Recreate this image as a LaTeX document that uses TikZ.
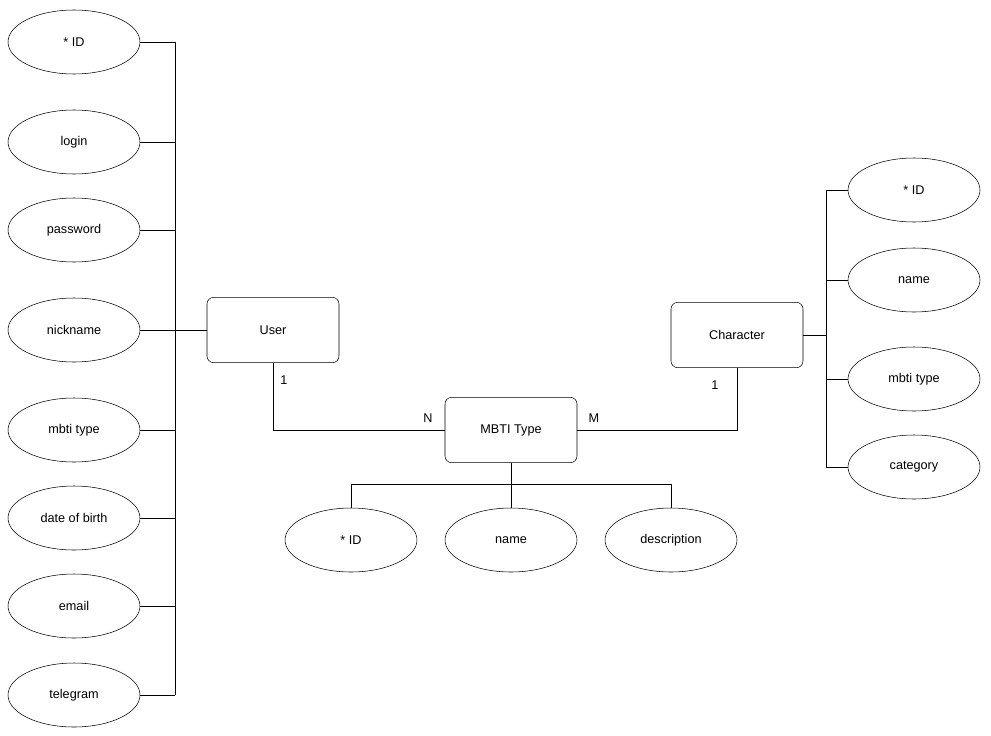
\documentclass[tikz,border=0pt]{standalone}
\usepackage{fontspec}
\setmainfont{Liberation Sans}
\usetikzlibrary{shapes.geometric}

\tikzset{
  attr/.style={draw,ellipse,minimum width=99pt,minimum height=48pt,inner sep=0pt,font=\fontsize{9.5}{11}\selectfont},
  entity/.style={draw,rounded corners=5pt,minimum width=99pt,minimum height=49pt,inner sep=0pt,font=\fontsize{9.5}{11}\selectfont},
  card/.style={font=\fontsize{9.5}{11}\selectfont}
}

\begin{document}
\begin{tikzpicture}[x=0.75pt,y=-0.75pt,thin]
  \useasboundingbox (0,0) rectangle (991,735);

% entities
  \node[entity] (user) at (273,330) {User};
  \node[entity] (mbti) at (511,430) {MBTI Type};
  \node[entity] (char) at (737,335) {Character};

% user attributes
  \coordinate (ubusT) at (175,42);
  \coordinate (ubusB) at (175,695);
  \draw (ubusT) -- (ubusB);
  \foreach \name/\txt/\y in {uid/{* ID}/42, ulogin/login/142, upass/password/230, unick/nickname/330,
      umbti/mbti type/430, ubirth/date of birth/518, umail/email/606, utg/telegram/695}{
    \node[attr] (\name) at (74,\y) {\txt};
    \draw (\name.east) -- (\name.east -| ubusT);
  }
  \draw (user.west) -- (user.west -| ubusT);

% character attributes
  \coordinate (cbusT) at (826,190);
  \coordinate (cbusB) at (826,467);
  \draw (cbusT) -- (cbusB);
  \foreach \name/\txt/\y in {cid/{* ID}/190, cname/name/280, cmbti/mbti type/379, ccat/category/467}{
    \node[attr] (\name) at (914,\y) {\txt};
    \draw (\name.west) -- (\name.west -| cbusT);
  }
  \draw (char.east) -- (char.east -| cbusT);

% mbti attributes
  \node[attr] (mid) at (351,540) {* ID};
  \node[attr] (mname) at (511,540) {name};
  \node[attr] (mdesc) at (671,540) {description};
  \coordinate (mjoin) at (511,484);
  \draw (mbti.south) -- (mjoin);
  \draw (mid.north) -- (mid.north |- mjoin) -- (mdesc.north |- mjoin) -- (mdesc.north);
  \draw (mname.north) -- (mjoin);

% relationships
  \draw (user.south) -- (user.south |- mbti.west) -- (mbti.west);
  \draw (char.south) -- (char.south |- mbti.east) -- (mbti.east);
  \node[card] (c1) at (284,380) {1};
  \node[card] (cn) at (428,418) {N};
  \node[card] (cm) at (594,418) {M};
  \node[card] (c2) at (715,385) {1};
\end{tikzpicture}
\end{document}
